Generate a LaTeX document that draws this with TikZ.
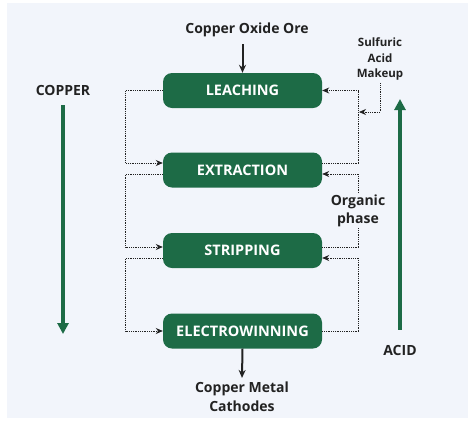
\documentclass[tikz,border=0pt]{standalone}
\usepackage{fontspec}
\setmainfont{Open Sans}
\usetikzlibrary{arrows.meta}
\definecolor{leafgreen}{HTML}{1D6B46}
\definecolor{panelblue}{HTML}{F2F5FB}
\definecolor{inkgray}{HTML}{222222}

\begin{document}
\begin{tikzpicture}[x=1pt, y=-1pt,
    stage/.style={shape=rectangle, rounded corners=9pt, fill=leafgreen, text=white,
      font=\fontsize{14.5}{16}\selectfont\bfseries, minimum width=159pt, minimum height=35pt, inner sep=0pt},
    label/.style={text=inkgray, font=\fontsize{14}{19}\selectfont\bfseries, align=center, inner sep=1pt},
    recycle/.style={inkgray, line width=0.8pt, densely dotted, -{Stealth[length=7pt, width=6pt]}},
    feed/.style={inkgray, line width=2pt, -{Stealth[length=8pt, width=7pt]}},
    trend/.style={leafgreen, line width=4.5pt, -{Triangle[length=11pt, width=11pt]}}]
        \useasboundingbox (0,0) rectangle (474,421);
        \fill[panelblue] (7,3) rectangle (468,418);

        % process stages
        \node[stage] (leach) at (242.5,90.5) {LEACHING};
        \node[stage] (extract) at (242.5,170) {EXTRACTION};
        \node[stage] (strip) at (242.5,250.5) {STRIPPING};
        \node[stage] (ewin) at (242.5,331) {ELECTROWINNING};

        % feed and product
        \node[label] (ore) at (247,30) {Copper Oxide Ore};
        \node[label] (cathodes) at (242,397) {Copper Metal\\Cathodes};
        \draw[feed] ([yshift=-6pt]ore.south -| leach.north) -- (leach.north);
        \draw[feed] (ewin.south) -- ([yshift=3pt]cathodes.north);

        % left side loops
        \draw[recycle] (leach.west) -- ++(-37,0) |- ([yshift=7pt]extract.west);
        \draw[recycle] ([yshift=-4pt]extract.west) -- ++(-37,0) |- ([yshift=3.5pt]strip.west);
        \draw[recycle] ([yshift=-7.5pt]strip.west) -- ++(-37,0) |- (ewin.west);

        % right side loops
        \draw[recycle] ([yshift=7pt]extract.east) -- ++(36,0) |- (leach.east);
        \draw[recycle] ([yshift=3.5pt]strip.east) -- ++(36,0) |- ([yshift=-4pt]extract.east);
        \draw[recycle] (ewin.east) -- ++(36,0) |- ([yshift=-7.5pt]strip.east);

        \node[label, fill=panelblue, font=\fontsize{14}{18}\selectfont\bfseries] (organic) at (358,211) {Organic\\phase};

        % acid makeup
        \node[label, font=\fontsize{11.5}{15.5}\selectfont\bfseries] (makeup) at (380,59) {Sulfuric\\Acid\\Makeup};
        \coordinate (makeupin) at (359,112);
        \draw[recycle] ([yshift=-2pt]makeup.south) |- (makeupin);

        % copper and acid trends
        \node[label] (copper) at (63,90) {COPPER};
        \coordinate (copperend) at (63,334);
        \draw[trend] ([yshift=-9pt]copper.south) -- (copperend);
        \node[label] (acid) at (400,350) {ACID};
        \coordinate (acidend) at (400,99);
        \draw[trend] ([yshift=14pt]acid.north) -- (acidend);

    \end{tikzpicture}
\end{document}
